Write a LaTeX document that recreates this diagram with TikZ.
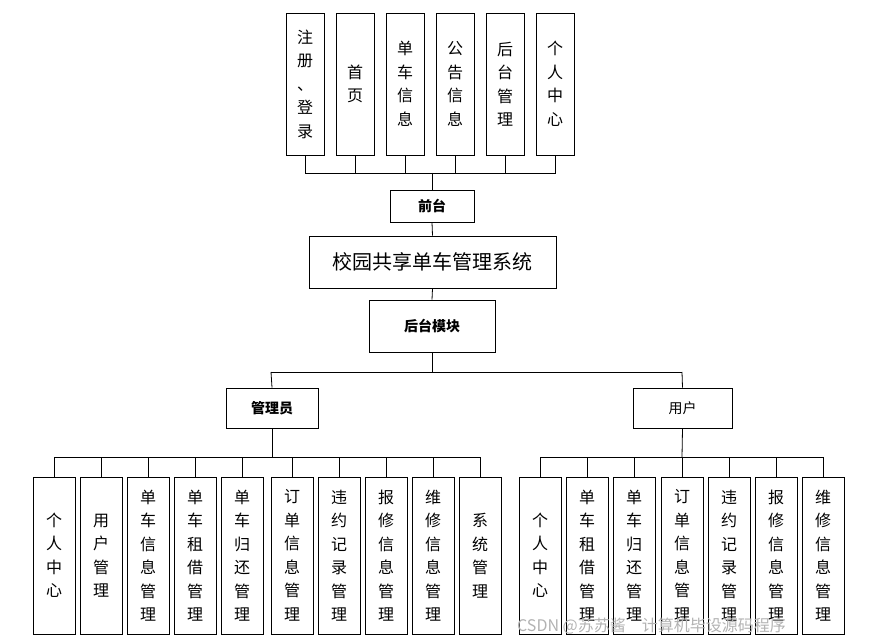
\documentclass[tikz,border=0pt]{standalone}
\usepackage{fontspec}
\setmainfont{Noto Sans CJK SC}
\begin{document}
\begin{tikzpicture}[x=1pt,y=-1pt,
 bx/.style={draw,thick,align=center,inner sep=0pt,font=\fontsize{16}{23.5}\selectfont},
 ln/.style={thick}]
\useasboundingbox (0,0) rectangle (875,644);
% top
\foreach \i/\t [count=\k] in {a/注\\册\\、\\登\\录,b/首\\页,c/单\\车\\信\\息,d/公\\告\\信\\息,e/后\\台\\管\\理,f/个\\人\\中\\心}{
  \node[bx,minimum width=38pt,minimum height=142pt] (t\i) at ({305+50*(\k-1)},84) {\t};
  \draw[ln] (t\i.south) -- ++(0,19);}
\draw[ln] (305,173) -- (555,173);
\node[bx,minimum width=84pt,minimum height=32pt,font=\bfseries\fontsize{14}{16}\selectfont] (front) at (432,206) {前台};
\draw[ln] (432,173) -- (front.north);
\node[bx,minimum width=247pt,minimum height=52pt,font=\fontsize{20}{24}\selectfont] (main) at (432.5,262) {校园共享单车管理系统};
\draw[ln] (front.south) -- (main.north);
\node[bx,minimum width=126pt,minimum height=52pt,font=\bfseries\fontsize{14}{16}\selectfont] (back) at (432,326) {后台模块};
\draw[ln] (main.south) -- (back.north);
\draw[ln] (back.south) -- (432,372);
\draw[ln] (271,372) -- (682,372);
\node[bx,minimum width=92pt,minimum height=40pt,font=\bfseries\fontsize{14}{16}\selectfont] (adm) at (272,408) {管理员};
\node[bx,minimum width=99pt,minimum height=40pt,font=\fontsize{14}{16}\selectfont] (usr) at (682.5,408) {用户};
\draw[ln] (271,372) -- (adm.north);
\draw[ln] (682,372) -- (usr.north);
\draw[ln] (adm.south) -- (272,457);
\draw[ln] (usr.south) -- (682,457);
% admin children
\foreach \t/\x [count=\k] in {个\\人\\中\\心/54,用\\户\\管\\理/101,单\\车\\信\\息\\管\\理/148,单\\车\\租\\借\\管\\理/195,单\\车\\归\\还\\管\\理/242,订\\单\\信\\息\\管\\理/292,违\\约\\记\\录\\管\\理/339,报\\修\\信\\息\\管\\理/386,维\\修\\信\\息\\管\\理/433,系\\统\\管\\理/480}{
  \node[bx,minimum width=42pt,minimum height=157pt] (m\k) at (\x,555.5) {\t};
  \draw[ln] (m\k.north) -- ++(0,-20);}
\draw[ln] (54,457) -- (480,457);
% user children
\foreach \t/\x [count=\k] in {个\\人\\中\\心/540,单\\车\\租\\借\\管\\理/587,单\\车\\归\\还\\管\\理/634,订\\单\\信\\息\\管\\理/682,违\\约\\记\\录\\管\\理/729,报\\修\\信\\息\\管\\理/776,维\\修\\信\\息\\管\\理/823}{
  \node[bx,minimum width=42pt,minimum height=157pt] (u\k) at (\x,555.5) {\t};
  \draw[ln] (u\k.north) -- ++(0,-20);}
\draw[ln] (540,457) -- (823,457);
\node[anchor=west,text=gray!60,inner sep=0pt,font=\fontsize{16}{18}\selectfont] (wm) at (517,626) {CSDN @苏苏酱\quad 计算机毕设源码程序};
\end{tikzpicture}
\end{document}
